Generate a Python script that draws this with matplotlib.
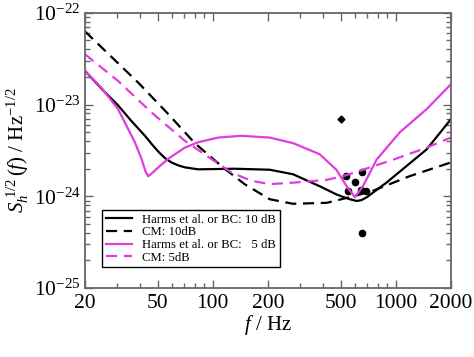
import matplotlib
matplotlib.use("Agg")
import matplotlib.pyplot as plt
from matplotlib.ticker import FixedLocator, LogLocator, LogFormatterMathtext, NullFormatter

plt.rcParams["font.family"] = ["Liberation Serif", "DejaVu Serif"]
plt.rcParams["mathtext.fontset"] = "custom"
plt.rcParams["mathtext.rm"] = "Liberation Serif"
plt.rcParams["mathtext.it"] = "Liberation Serif:italic"

# Harms et al. or BC: 10 dB (black solid)
f_bc10 = [20, 25, 30.4, 36, 42.6, 47, 51, 55, 59.5, 65, 70.4, 83.2, 132, 205, 275, 384, 474, 520, 561, 612,
          650, 696, 890, 1146, 1474, 2000]
s_bc10 = [2.34e-23, 1.45e-23, 9.8e-24, 6.6e-24, 4.57e-24, 3.6e-24, 3.0e-24, 2.6e-24, 2.34e-24, 2.17e-24,
          2.07e-24, 1.97e-24, 2.0e-24, 1.95e-24, 1.74e-24, 1.29e-24, 1.05e-24, 9.8e-25, 9.3e-25, 8.9e-25,
          9.1e-25, 9.8e-25, 1.41e-24, 2.14e-24, 3.24e-24, 6.9e-24]

# CM: 10dB (black dashed)
f_cm10 = [20, 39.1, 57.1, 79.8, 116, 150, 205, 274, 420, 561, 726, 1193, 2000]
s_cm10 = [6.3e-23, 1.74e-23, 7.9e-24, 3.8e-24, 2.0e-24, 1.35e-24, 9.3e-25, 8.3e-25, 8.5e-25,
          9.8e-25, 1.12e-24, 1.66e-24, 2.34e-24]

# Harms et al. or BC: 5 dB (magenta solid)
f_bc5 = [20, 24.6, 30.4, 37.5, 40.8, 43.0, 44.4, 46.0, 50, 57.1, 70.4, 83.2, 107, 143, 205, 275, 384, 474,
         539, 598, 662, 786, 1054, 1474, 2000]
s_bc5 = [2.34e-23, 1.53e-23, 8.9e-24, 3.9e-24, 2.57e-24, 1.85e-24, 1.66e-24, 1.75e-24, 2.04e-24, 2.57e-24,
         3.39e-24, 3.89e-24, 4.37e-24, 4.57e-24, 4.37e-24, 3.8e-24, 2.88e-24, 1.95e-24,
         1.29e-24, 9.8e-25, 1.29e-24, 2.51e-24, 5.0e-24, 8.9e-24, 1.66e-23]

# CM: 5dB (magenta dashed)
f_cm5 = [20, 30.4, 46.3, 70.4, 98.4, 126.5, 162, 205, 275, 418, 516, 662, 968, 1474, 2000]
s_cm5 = [3.55e-23, 1.81e-23, 8.2e-24, 4.03e-24, 2.55e-24, 1.82e-24, 1.48e-24, 1.36e-24, 1.41e-24,
         1.51e-24, 1.66e-24, 1.95e-24, 2.51e-24, 3.39e-24, 4.37e-24]

# measured points
f_dots = [534, 654, 596, 550, 648, 684, 654]
s_dots = [1.66e-24, 1.86e-24, 1.44e-24, 1.15e-24, 1.17e-24, 1.14e-24, 4.0e-25]
f_diam = [502]
s_diam = [6.9e-24]

labels = ["Harms et al. or BC: 10 dB", "CM: 10dB", "Harms et al. or BC:   5 dB", "CM: 5dB"]
x_major = [20, 50, 100, 200, 500, 1000, 2000]
x_minor = [30, 40, 60, 70, 80, 90, 300, 400, 600, 700, 800, 900]

magenta = "#e03ce0"
spine_col = "#666666"

fig = plt.figure(figsize=(4.74, 3.57), dpi=100)
ax = fig.add_axes([0.179, 0.193, 0.772, 0.771])

ax.plot(f_dots, s_dots, "o", color="black", ms=4.5, zorder=1.5)
ax.plot(f_diam, s_diam, "D", color="black", ms=3.5, zorder=1.5)

ax.plot(f_bc10, s_bc10, "-", color="black", lw=1.6, label=labels[0])
ax.plot(f_cm10, s_cm10, "--", color="black", lw=1.6, dashes=(5, 3), label=labels[1])
ax.plot(f_bc5, s_bc5, "-", color=magenta, lw=1.6, label=labels[2])
ax.plot(f_cm5, s_cm5, "--", color=magenta, lw=1.6, dashes=(5, 3), label=labels[3])

ax.set_xscale("log")
ax.set_yscale("log")
ax.set_xlim(20, 2000)
ax.set_ylim(1e-25, 1e-22)

ax.xaxis.set_major_locator(FixedLocator(x_major))
ax.xaxis.set_minor_locator(FixedLocator(x_minor))
ax.set_xticklabels([str(v) for v in x_major])
ax.xaxis.set_minor_formatter(NullFormatter())
ax.yaxis.set_major_locator(LogLocator(base=10, numticks=10))
ax.yaxis.set_minor_locator(LogLocator(base=10, subs=range(2, 10), numticks=10))
ax.yaxis.set_major_formatter(LogFormatterMathtext())
ax.yaxis.set_minor_formatter(NullFormatter())

ax.tick_params(which="both", direction="in", top=True, right=True, color=spine_col, width=1.0)
ax.tick_params(which="major", length=6, labelsize=15.5, pad=4)
ax.tick_params(axis="y", which="major", pad=3)
ax.tick_params(which="minor", length=3.5)
for sp in ax.spines.values():
    sp.set_color(spine_col)
    sp.set_linewidth(1.3)

ax.set_xlabel(r"$f$ / Hz", fontsize=15, labelpad=0)
ax.set_ylabel(r"$S_h^{\ 1/2}\,(f)$ / Hz$^{-1/2}$", fontsize=15, labelpad=2)

leg = ax.legend(loc="lower left", bbox_to_anchor=(0.048, 0.075), fontsize=9.2, frameon=True,
                fancybox=False, framealpha=1, edgecolor="black", handlelength=2.0,
                handletextpad=0.8, labelspacing=0.05, borderpad=0.3, borderaxespad=0)
leg.get_frame().set_linewidth(1.0)

plt.savefig("out.png", dpi=100)
